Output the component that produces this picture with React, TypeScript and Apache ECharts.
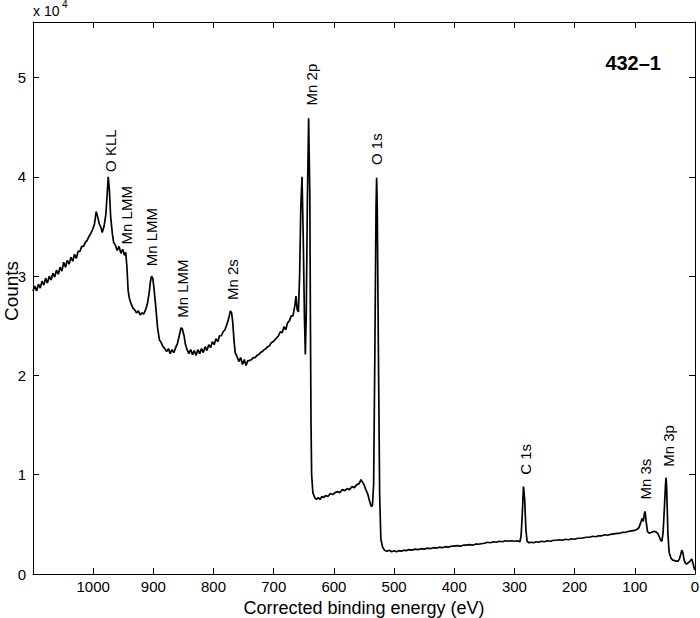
import React, { useEffect, useRef } from "react";
import * as echarts from "echarts";

// Binding energy (eV) and counts
const energy = [
  1100, 1097, 1094, 1091, 1088, 1085, 1082, 1079, 1076, 1073, 1070, 1067, 1064, 1061, 1058, 1055, 1052, 1049, 1046, 1043,
  1040, 1037, 1034, 1031, 1028, 1025, 1022, 1019, 1016, 1013, 1010, 1007, 1004, 1001, 998, 995, 993, 990, 987, 985,
  982, 979, 977, 975, 973, 971, 968, 966, 963, 960, 957, 954, 951, 948, 946, 944, 942, 940, 937, 934,
  931, 928, 925, 922, 919, 916, 913, 910, 907, 905, 903, 901, 899, 896, 893, 890, 887, 884, 881, 878,
  875, 872, 869, 866, 863, 860, 857, 854, 852, 849, 847, 844, 841, 838, 835, 832, 829, 826, 823, 820,
  817, 814, 811, 808, 805, 802, 799, 796, 793, 790, 787, 784, 781, 778, 775, 772, 770, 768, 766, 764,
  761, 758, 755, 752, 749, 746, 743, 740, 737, 734, 731, 728, 725, 722, 719, 716, 713, 710, 707, 704,
  701, 698, 695, 692, 689, 686, 683, 680, 677, 674, 671, 668, 665, 663, 661, 659, 657, 655, 653, 651,
  649, 647.5, 646, 644, 642, 640, 639, 638, 637, 635, 632, 629, 626, 623, 620, 617,
  614, 610, 606, 602, 598, 594, 590, 586, 582, 578, 574, 570, 566, 562, 558, 555, 553, 550, 547, 544,
  541, 538, 536, 534, 532, 530, 529, 528, 526, 524, 522, 519, 516, 512, 508, 504, 500, 496, 492, 488,
  484, 480, 475, 470, 465, 460, 455, 450, 445, 440, 435, 430, 425, 420, 415, 410, 405, 400, 395, 390,
  385, 380, 375, 370, 365, 360, 355, 350, 345, 340, 335, 330, 325, 320, 315, 310, 305, 300, 295, 291,
  289, 287, 285, 283, 281, 279, 276, 272, 268, 264, 260, 255, 250, 245, 240, 235, 230, 225, 220, 215,
  210, 205, 200, 195, 190, 185, 180, 175, 170, 165, 160, 155, 150, 145, 140, 135, 130, 125, 120, 115,
  110, 105, 100, 96, 93, 90, 88, 86, 84, 83, 81, 79, 76, 72, 68, 65, 62, 59, 57, 55,
  53, 51, 49, 48, 47, 45, 43, 40, 37, 34, 31, 28, 26, 24, 22, 20, 18, 16, 14, 12,
  10, 8, 6, 5, 3, 1, 0,
];

const counts = [
  28500, 29000, 28500, 29200, 28800, 29500, 29100, 29800, 29300, 30000, 29600, 30300, 29900, 30600, 30200, 30900, 30500, 31400, 30900, 31600,
  31200, 31900, 31500, 32200, 31800, 32500, 32500, 33000, 33000, 33400, 33600, 34000, 34300, 34700, 35200, 36500, 36100, 35300, 34900, 34400,
  35000, 36200, 38000, 40000, 38600, 36000, 34200, 33400, 33100, 32600, 33000, 32300, 32700, 32100, 32400, 31000, 28600, 27800, 27200, 26800,
  26600, 26300, 26500, 26100, 26300, 26200, 26600, 27200, 28300, 29400, 30000, 29800, 28800, 26900, 24800, 23600, 23300, 22900, 22700, 22400,
  22700, 22200, 22600, 22300, 22800, 23200, 24000, 24800, 24700, 24000, 23200, 22600, 22200, 22600, 22100, 22500, 22000, 22600, 22200, 22700,
  22300, 22900, 22500, 23100, 22800, 23400, 23100, 23700, 23400, 24000, 24000, 24400, 24600, 25100, 25700, 26500, 26300, 25300, 23500, 22300,
  21900, 21400, 21800, 21100, 21600, 21000, 21500, 21500, 21600, 21800, 21800, 22000, 22100, 22300, 22400, 22600, 22700, 22900, 23000, 23300,
  23400, 23600, 23800, 24000, 24400, 24300, 24900, 24600, 25300, 25500, 26000, 26000, 27000, 28000, 26600, 26400, 30000, 37000, 40000, 34000,
  26000, 22100, 26000, 38000, 45900, 38000, 25000, 15000, 10000, 8200, 7700, 7500, 7700, 7500, 7800, 7700,
  7900, 7800, 8100, 8000, 8200, 8300, 8200, 8500, 8400, 8600, 8500, 8800, 8700, 9000, 9100, 9500, 9300, 9000, 8500, 8100,
  7400, 6800, 6900, 9000, 22000, 37000, 39900, 37000, 22000, 8000, 3500, 2700, 2400, 2300, 2400, 2250, 2350, 2250, 2350, 2300,
  2400, 2350, 2450, 2400, 2500, 2450, 2550, 2500, 2600, 2550, 2650, 2600, 2700, 2650, 2750, 2700, 2800, 2800, 2850, 2800,
  2900, 2900, 2950, 2900, 3000, 3000, 3050, 3100, 3200, 3150, 3250, 3200, 3300, 3250, 3350, 3300, 3350, 3300, 3350, 3250,
  3800, 6000, 8800, 7500, 4500, 3300, 3150, 3200, 3150, 3250, 3200, 3300, 3250, 3350, 3300, 3400, 3400, 3450, 3400, 3500,
  3450, 3550, 3500, 3600, 3600, 3650, 3700, 3700, 3800, 3750, 3850, 3850, 3950, 3900, 4000, 4050, 4100, 4100, 4200, 4200,
  4300, 4350, 4400, 4500, 4700, 5200, 5600, 5300, 6100, 6300, 5200, 4300, 4100, 4200, 4300, 4250, 4100, 3700, 3400, 3300,
  4200, 6500, 9000, 9700, 8500, 4000, 2200, 1600, 1400, 1350, 1300, 1300, 1500, 1900, 2400, 2100, 1400, 1100, 1000, 1100,
  1200, 1300, 1500, 1450, 1000, 500, 400,
];

// Peak annotations (text starts just above the peak)
const peakNames = ["O KLL", "Mn LMM", "Mn LMM", "Mn LMM", "Mn 2s", "Mn 2p", "O 1s", "C 1s", "Mn 3s", "Mn 3p"];
const peakLabelEnergy = [971, 944, 902.5, 851, 768, 638, 528.7, 282.4, 83, 44.3];
const peakLabelCounts = [40500, 33200, 31000, 25800, 27600, 47200, 41200, 10000, 7500, 10800];

const xTickInterval = 100;
const xMin = 0;
const xMax = 1100;
const yMin = 0;
const yMax = 55600;
const yTickInterval = 10000;

const sampleName = "432\u20131";
const xTitle = "Corrected binding energy (eV)";
const yTitle = "Counts";

const FONT = "'Liberation Sans', Arial, Helvetica, sans-serif";

export default function App() {
  const ref = useRef<HTMLDivElement>(null);
  useEffect(() => {
    if (!ref.current) return;
    const chart = echarts.init(ref.current, undefined, { renderer: "svg" });
    const lineData = energy.map((e, i) => [e, counts[i]]);
    const labelData = peakNames.map((n, i) => ({ value: [peakLabelEnergy[i], peakLabelCounts[i]], name: n }));
    const axisLine = () => ({ show: true, onZero: false, lineStyle: { color: "#000", width: 1 } });
    const tick = () => ({ show: true, inside: true, length: 6, lineStyle: { color: "#000", width: 1 } });
    chart.setOption({
      animation: false,
      backgroundColor: "#fff",
      textStyle: { fontFamily: FONT },
      grid: { left: 33, right: 5, top: 22, bottom: 44, containLabel: false, outerBoundsMode: "none" },
      xAxis: [
        {
          type: "value",
          inverse: true,
          min: xMin,
          max: xMax,
          interval: xTickInterval,
          position: "bottom",
          axisLine: axisLine(),
          axisTick: tick(),
          splitLine: { show: false },
          axisLabel: {
            show: true,
            color: "#000",
            fontSize: 15,
            fontFamily: FONT,
            margin: 5,
            showMaxLabel: false,
            formatter: (v: number) => String(v),
          },
          name: xTitle,
          nameLocation: "middle",
          nameGap: 21,
          nameTextStyle: { color: "#000", fontSize: 18, fontFamily: FONT },
        },
        {
          type: "value",
          inverse: true,
          min: xMin,
          max: xMax,
          interval: xTickInterval,
          position: "top",
          axisLine: axisLine(),
          axisTick: tick(),
          splitLine: { show: false },
          axisLabel: { show: false },
        },
      ],
      yAxis: [
        {
          type: "value",
          min: yMin,
          max: yMax,
          interval: yTickInterval,
          position: "left",
          axisLine: axisLine(),
          axisTick: tick(),
          splitLine: { show: false },
          axisLabel: {
            show: true,
            color: "#000",
            fontSize: 15,
            fontFamily: FONT,
            margin: 7,
            showMaxLabel: false,
            formatter: (v: number) => String(Math.round(v / 10000)),
          },
        },
        {
          type: "value",
          min: yMin,
          max: yMax,
          interval: yTickInterval,
          position: "right",
          axisLine: axisLine(),
          axisTick: tick(),
          splitLine: { show: false },
          axisLabel: { show: false },
        },
      ],
      series: [
        {
          type: "line",
          data: lineData,
          showSymbol: false,
          symbol: "none",
          lineStyle: { color: "#000", width: 1.7 },
          xAxisIndex: 0,
          yAxisIndex: 0,
          silent: true,
        },
        {
          type: "scatter",
          data: labelData,
          symbolSize: 0,
          xAxisIndex: 0,
          yAxisIndex: 0,
          silent: true,
          z: 5,
          itemStyle: { opacity: 1, color: "#000" },
          label: {
            show: true,
            position: "inside",
            rotate: 90,
            align: "left",
            verticalAlign: "middle",
            formatter: (p: any) => p.name,
            color: "#000",
            opacity: 1,
            fontSize: 15,
            fontFamily: FONT,
          },
        },
      ],
      graphic: [
        {
          type: "text",
          x: 11,
          y: 291,
          rotation: Math.PI / 2,
          style: { text: yTitle, fill: "#000", font: `19px ${FONT}`, textAlign: "center", textVerticalAlign: "middle" },
        },
        {
          type: "text",
          x: 661,
          y: 63,
          style: { text: sampleName, fill: "#000", font: `bold 20px ${FONT}`, textAlign: "right", textVerticalAlign: "middle" },
        },
        {
          type: "text",
          x: 33,
          y: 11,
          style: { text: "x 10", fill: "#000", font: `14px ${FONT}`, textAlign: "left", textVerticalAlign: "middle" },
        },
        {
          type: "text",
          x: 62,
          y: 4,
          style: { text: "4", fill: "#000", font: `10px ${FONT}`, textAlign: "left", textVerticalAlign: "middle" },
        },
      ],
    });
    return () => chart.dispose();
  }, []);
  return <div ref={ref} style={{ position: "fixed", left: 0, top: 0, width: 700, height: 618, background: "#fff" }} />;
}
